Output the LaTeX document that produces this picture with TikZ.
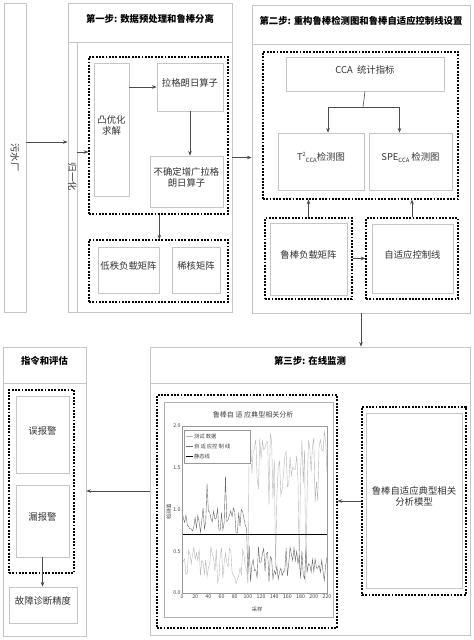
\documentclass[tikz,border=0pt]{standalone}
\usepackage{fontspec}
\setmainfont{Noto Sans CJK SC}
\usepackage{xcolor}
\usepackage{tikz}
\usetikzlibrary{fit,arrows.meta}
\newlength{\px}
\setlength{\px}{0.03cm}
\tikzset{
	box/.style={draw=gray!45, line width=0.6pt, inner sep=0pt, align=center, text=black!80, font=\fontsize{8}{10}\selectfont},
	headbox/.style={box, text=black, font=\fontsize{8}{10}\selectfont\bfseries},
	dbox/.style={draw=black, line width=0.9pt, dash pattern=on 1.6pt off 1.2pt, inner sep=0pt},
	vtext/.style={rotate=-90, text=black!80, font=\fontsize{8}{10}\selectfont},
	arr/.style={draw=black!70, line width=0.5pt, -{Stealth[length=4pt, width=3pt]}},
	ticklab/.style={font=\fontsize{4.5}{5}\selectfont, text=black!75, inner sep=1pt},
	testc/.style={gray!55, line width=0.35pt},
	adapc/.style={gray!85!black, line width=0.35pt},
}

\begin{document}
\begin{tikzpicture}[x=0.03cm, y=-0.03cm]
	\useasboundingbox (0,0) rectangle (474,640);

	\node[box, fit={(4,3) (26,312)}] (plant) {};
	\node[vtext] (planttxt) at (plant) {污水厂};

	\node[box, fit={(68,3) (232,312)}] (step1) {};
	\node[headbox, fit={(68,3) (232,42)}] (s1title) {第一步: 数据预处理和鲁棒分离};
	\node[box, fit={(68,42) (77,312)}] (norm) {};
	\node[vtext] (normtxt) at (norm) {归一化};
	\node[dbox, fit={(89,57) (228,214)}] (grp1) {};
	\node[box, fit={(94,63) (129,196)}] (cvx) {凸优化\\求解};
	\node[box, fit={(157,63) (223,111)}] (lag) {拉格朗日算子};
	\node[box, fit={(150,156) (223,207)}] (unc) {不确定增广拉格\\朗日算子};
	\node[dbox, fit={(89,240) (228,302)}] (grp2) {};
	\node[box, fit={(98,247) (159,293)}] (lowrank) {低秩负载矩阵};
	\node[box, fit={(172,247) (220,293)}] (sparse) {稀核矩阵};

	\node[box, fit={(252,5) (470,313)}] (step2) {};
	\node[headbox, fit={(252,5) (470,44)}] (s2title) {第二步: 重构鲁棒检测图和鲁棒自适应控制线设置};
	\node[dbox, fit={(263,52) (458,199)}] (grpcca) {};
	\node[box, fit={(286,57) (444,91)}] (cca) {CCA\ \ 统计指标};
	\node[box, fit={(278,133) (364,190)}] (t2) {T\raisebox{0.7ex}{\tiny 2}\raisebox{-0.5ex}{\tiny CCA}检测图};
	\node[box, fit={(369,133) (452,190)}] (spe) {SPE\raisebox{-0.5ex}{\tiny CCA} 检测图};
	\node[dbox, fit={(265,218) (352,299)}] (rlout) {};
	\node[box, fit={(270,223) (347,295)}] (rl) {鲁棒负载矩阵};
	\node[dbox, fit={(366,218) (458,299)}] (acout) {};
	\node[box, fit={(372,224) (453,293)}] (ac) {自适应控制线};
	\coordinate (split) at (363,107);

	\node[box, fit={(150,347) (470,635)}] (step3) {};
	\node[headbox, fit={(150,347) (470,383)}] (s3title) {第三步: 在线监测};
	\node[dbox, fit={(157,395) (337,628)}] (plotg) {};
	\node[box, draw=gray!60, fit={(164,402) (333,617)}] (plotfr) {};
	\node[dbox, fit={(362,407) (466,595)}] (modelout) {};
	\node[box, fit={(366,413) (462,588)}] (model) {鲁棒自适应典型相关\\分析模型};

	\node[box, fit={(3,347) (86,636)}] (evalb) {};
	\node[headbox, fit={(3,347) (86,383)}] (evaltitle) {指令和评估};
	\node[dbox, fit={(9,390) (74,573)}] (grpalarm) {};
	\node[box, fit={(16,396) (69,473)}] (falsea) {误报警};
	\node[box, fit={(16,485) (69,557)}] (missa) {漏报警};
	\node[box, fit={(9,587) (77,623)}] (acc) {故障诊断精度};

	\draw[arr] (plant.east |- 0,142) -- (norm.west |- 0,142);
	\draw[arr] (norm.east |- 0,152) -- (grp1.west |- 0,152);
	\draw[arr] (cvx.east |- lag.west) -- (lag.west);
	\draw[arr] (lag.south) -- (lag.south |- unc.north);
	\draw[arr] (grp1.south -| lowrank.east) -- (grp2.north -| lowrank.east);
	\draw[arr] (step1.east) -- (step1.east -| step2.west);
	\draw[draw=black!70, line width=0.5pt] (cca.south) -- (split);
	\draw[arr] (split) -| ([xshift=7\px]t2.north);
	\draw[arr] (split) -| ([xshift=-11\px]spe.north);
	\draw[arr] (rlout.north) -- (rlout.north |- grpcca.south);
	\draw[arr] (acout.north) -- (acout.north |- grpcca.south);
	\draw[arr] (rlout.east) -- (acout.west);
	\draw[arr] (step2.south) -- (step2.south |- step3.north);
	\draw[arr] (modelout.west) -- (modelout.west -| plotg.east);
	\draw[arr] (step3.west) -- (step3.west -| evalb.east);
	\draw[arr] (missa.south) -- (missa.south |- acc.north);

	\begin{scope}[shift={(182,593)}, xscale=0.659, yscale=-83.5]
		\pgfmathsetseed{17}
		\draw[testc] plot[domain=0:220, samples=111] (\x,{\x<100 ? 0.1+0.45*rnd : (rnd>0.88 ? 0.05+0.25*rnd : 1.0+0.95*rnd)});
		\draw[adapc] plot[domain=0:220, samples=111] (\x,{\x<100 ? 0.72+0.3*rnd+0.4*(abs(\x-38)<1.5)+0.55*(abs(\x-66)<1.5) : 0.12+0.45*rnd});
		\draw[black, line width=0.8pt] (0,0.7) -- (220,0.7);
		\draw[gray!80, line width=0.4pt] (0,0) rectangle (220,2);
		\foreach \t in {0,20,...,220}
			\node[ticklab, below] (xt\t) at (\t,0) {\t};
		\foreach \v/\l [count=\i] in {0/0.0,0.5/0.5,1/1.0,1.5/1.5,2/2.0}
			\node[ticklab, left] (yt\i) at (0,\v) {\l};
		\node[draw=gray!80, line width=0.4pt, fill=white, inner sep=0pt, fit={(3,1.96) (103,1.56)}] (leg) {};
		\draw[testc, line width=0.6pt] (6,1.88) -- (16,1.88) node[ticklab, right] (leg1) {测试 数据};
		\draw[adapc, line width=0.6pt] (6,1.76) -- (16,1.76) node[ticklab, right] (leg2) {自 适 应控 制 线};
		\draw[black, line width=0.6pt] (6,1.64) -- (16,1.64) node[ticklab, right] (leg3) {静态线};
		\node[ticklab, font=\fontsize{6}{7}\selectfont] (ptitle) at (108,2.13) {鲁棒自 适 应典型相关分析};
		\node[ticklab, rotate=90] (ylab) at (-20,0.97) {检测值};
		\node[ticklab] (xlab) at (114,-0.2) {采样};
	\end{scope}
\end{tikzpicture}
\end{document}
